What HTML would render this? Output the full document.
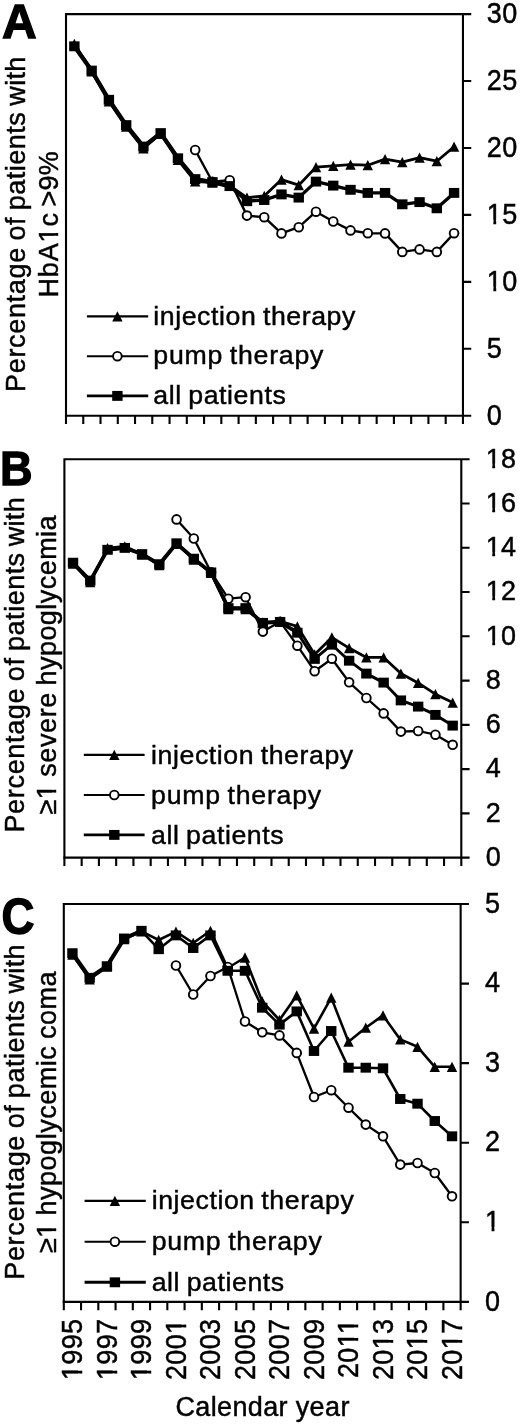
<!DOCTYPE html>
<html lang="en"><head><meta charset="utf-8"><title>Figure: trends by calendar year</title>
<style>
html,body{margin:0;padding:0;background:#fff;}
body{width:520px;height:1425px;overflow:hidden;}
svg{display:block;}
text{font-family:"Liberation Sans", Arial, Helvetica, sans-serif;font-size:27px;fill:#000;stroke:#000;stroke-width:0.45px;letter-spacing:0.36px;}
.axis path{fill:none;stroke:#000;stroke-width:2.1;}
.letter{font-weight:bold;font-size:48px;fill:#000;stroke:#000;stroke-width:1.3px;letter-spacing:0;stroke-linejoin:miter;}
.ytitle{text-anchor:middle;letter-spacing:0.52px;word-spacing:-1.4px;}
.leg{font-size:26.7px;letter-spacing:0.57px;word-spacing:-1.4px;}
.xnum text{text-anchor:end;}
.xtitle{text-anchor:middle;}
.s-inj path{fill:none;stroke:#000;stroke-linejoin:round;}
.s-inj polygon{fill:#000;}
.s-pump path{fill:none;stroke:#000;stroke-linejoin:round;}
.s-pump circle{fill:#fff;stroke:#000;stroke-width:1.9;}
.s-all path{fill:none;stroke:#000;stroke-linejoin:round;}
.s-all rect{fill:#000;}
.m1 rect{fill:#fff;stroke:none;}
</style></head><body>
<svg width="520" height="1425" viewBox="0 0 520 1425">
<defs><filter id="soft" x="0" y="0" width="520" height="1425" filterUnits="userSpaceOnUse" color-interpolation-filters="sRGB"><feGaussianBlur stdDeviation="0.42"/></filter></defs>
<rect x="0" y="0" width="520" height="1425" fill="#fff"/>
<g filter="url(#soft)">
<g class="panel" id="panel-A">
<g class="axis">
<path d="M66,415.7 V14.1 H471.25"/>
<path d="M462.95,14.1 V424"/>
<path d="M64.95,415.7 H471.25"/>
<path d="M66,415.7v8.3 M83.26,415.7v8.3 M100.52,415.7v8.3 M117.78,415.7v8.3 M135.03,415.7v8.3 M152.29,415.7v8.3 M169.55,415.7v8.3 M186.81,415.7v8.3 M204.07,415.7v8.3 M221.33,415.7v8.3 M238.59,415.7v8.3 M255.85,415.7v8.3 M273.1,415.7v8.3 M290.36,415.7v8.3 M307.62,415.7v8.3 M324.88,415.7v8.3 M342.14,415.7v8.3 M359.4,415.7v8.3 M376.66,415.7v8.3 M393.92,415.7v8.3 M411.17,415.7v8.3 M428.43,415.7v8.3 M445.69,415.7v8.3"/>
<path d="M462.95,348.77h8.3 M462.95,281.83h8.3 M462.95,214.9h8.3 M462.95,147.97h8.3 M462.95,81.03h8.3"/>
</g>
<g class="ynum">
<text transform="translate(486.8,424.8) scale(1,1.08)">0</text>
<text transform="translate(486.8,357.87) scale(1,1.08)">5</text>
<text transform="translate(486.8,290.93) scale(1,1.08)">10</text>
<g class="m1" transform="translate(486.8,290.93) scale(1,1.08)"><rect x="0.96" y="-3.94" width="5.59" height="5.37"/><rect x="9.42" y="-3.94" width="5.38" height="5.37"/></g>
<text transform="translate(486.8,224) scale(1,1.08)">15</text>
<g class="m1" transform="translate(486.8,224) scale(1,1.08)"><rect x="0.96" y="-3.94" width="5.59" height="5.37"/><rect x="9.42" y="-3.94" width="5.38" height="5.37"/></g>
<text transform="translate(486.8,157.07) scale(1,1.08)">20</text>
<text transform="translate(486.8,90.13) scale(1,1.08)">25</text>
<text transform="translate(486.8,23.2) scale(1,1.08)">30</text>
</g>
<g class="s-inj"><path stroke-width="2.8" d="M74.38,43.8 L91.64,71.3 L108.9,101.3 L126.16,126.6 L143.41,148.4 L160.67,133.8 L177.93,159.8 L195.19,181.3 L212.45,182.6 L229.71,185.6 L246.97,197.6 L264.23,196 L281.48,179.6 L298.74,185.2 L316,167.1 L333.26,165.9 L350.52,164.6 L367.78,165.2 L385.04,159.1 L402.29,162.1 L419.55,157.6 L436.81,161.2 L454.07,146.7"/>
<polygon points="74.38,38.65 79.58,48.95 69.18,48.95"/><polygon points="91.64,66.15 96.84,76.45 86.44,76.45"/><polygon points="108.9,96.15 114.1,106.45 103.7,106.45"/><polygon points="126.16,121.45 131.36,131.75 120.96,131.75"/><polygon points="143.41,143.25 148.61,153.55 138.21,153.55"/><polygon points="160.67,128.65 165.87,138.95 155.47,138.95"/><polygon points="177.93,154.65 183.13,164.95 172.73,164.95"/><polygon points="195.19,176.15 200.39,186.45 189.99,186.45"/><polygon points="212.45,177.45 217.65,187.75 207.25,187.75"/><polygon points="229.71,180.45 234.91,190.75 224.51,190.75"/><polygon points="246.97,192.45 252.17,202.75 241.77,202.75"/><polygon points="264.23,190.85 269.43,201.15 259.03,201.15"/><polygon points="281.48,174.45 286.68,184.75 276.28,184.75"/><polygon points="298.74,180.05 303.94,190.35 293.54,190.35"/><polygon points="316,161.95 321.2,172.25 310.8,172.25"/><polygon points="333.26,160.75 338.46,171.05 328.06,171.05"/><polygon points="350.52,159.45 355.72,169.75 345.32,169.75"/><polygon points="367.78,160.05 372.98,170.35 362.58,170.35"/><polygon points="385.04,153.95 390.24,164.25 379.84,164.25"/><polygon points="402.29,156.95 407.49,167.25 397.09,167.25"/><polygon points="419.55,152.45 424.75,162.75 414.35,162.75"/><polygon points="436.81,156.05 442.01,166.35 431.61,166.35"/><polygon points="454.07,141.55 459.27,151.85 448.87,151.85"/></g>
<g class="s-pump"><path stroke-width="2.4" d="M195.19,150 L212.45,181.7 L229.71,180.2 L246.97,215.6 L264.23,217.2 L281.48,233.4 L298.74,227.2 L316,211.7 L333.26,221.5 L350.52,230.4 L367.78,233.2 L385.04,233.4 L402.29,251.9 L419.55,249.4 L436.81,251.9 L454.07,233.2"/>
<circle cx="195.19" cy="150" r="4.35"/><circle cx="212.45" cy="181.7" r="4.35"/><circle cx="229.71" cy="180.2" r="4.35"/><circle cx="246.97" cy="215.6" r="4.35"/><circle cx="264.23" cy="217.2" r="4.35"/><circle cx="281.48" cy="233.4" r="4.35"/><circle cx="298.74" cy="227.2" r="4.35"/><circle cx="316" cy="211.7" r="4.35"/><circle cx="333.26" cy="221.5" r="4.35"/><circle cx="350.52" cy="230.4" r="4.35"/><circle cx="367.78" cy="233.2" r="4.35"/><circle cx="385.04" cy="233.4" r="4.35"/><circle cx="402.29" cy="251.9" r="4.35"/><circle cx="419.55" cy="249.4" r="4.35"/><circle cx="436.81" cy="251.9" r="4.35"/><circle cx="454.07" cy="233.2" r="4.35"/></g>
<g class="s-all"><path stroke-width="4.3" d="M74.38,46.3 L91.64,70.6 L108.9,99.8 L126.16,125.1 L143.41,146.6 L160.67,133.1 L177.93,158.3 L195.19,179.1 L212.45,182.1 L229.71,186.1"/><path stroke-width="3.3" d="M74.38,46.3 L91.64,70.6 L108.9,99.8 L126.16,125.1 L143.41,146.6 L160.67,133.1 L177.93,158.3 L195.19,179.1 L212.45,182.1 L229.71,186.1 L246.97,201.2 L264.23,200 L281.48,194.4 L298.74,197.6 L316,181.6 L333.26,185.6 L350.52,189.8 L367.78,192.9 L385.04,192.9 L402.29,204.3 L419.55,202.1 L436.81,208.3 L454.07,192.9"/>
<rect x="69.18" y="41.35" width="10.4" height="9.9"/><rect x="86.44" y="65.65" width="10.4" height="9.9"/><rect x="103.7" y="94.85" width="10.4" height="9.9"/><rect x="120.96" y="120.15" width="10.4" height="9.9"/><rect x="138.21" y="141.65" width="10.4" height="9.9"/><rect x="155.47" y="128.15" width="10.4" height="9.9"/><rect x="172.73" y="153.35" width="10.4" height="9.9"/><rect x="189.99" y="174.15" width="10.4" height="9.9"/><rect x="207.25" y="177.15" width="10.4" height="9.9"/><rect x="224.51" y="181.15" width="10.4" height="9.9"/><rect x="241.77" y="196.25" width="10.4" height="9.9"/><rect x="259.03" y="195.05" width="10.4" height="9.9"/><rect x="276.28" y="189.45" width="10.4" height="9.9"/><rect x="293.54" y="192.65" width="10.4" height="9.9"/><rect x="310.8" y="176.65" width="10.4" height="9.9"/><rect x="328.06" y="180.65" width="10.4" height="9.9"/><rect x="345.32" y="184.85" width="10.4" height="9.9"/><rect x="362.58" y="187.95" width="10.4" height="9.9"/><rect x="379.84" y="187.95" width="10.4" height="9.9"/><rect x="397.09" y="199.35" width="10.4" height="9.9"/><rect x="414.35" y="197.15" width="10.4" height="9.9"/><rect x="431.61" y="203.35" width="10.4" height="9.9"/><rect x="448.87" y="187.95" width="10.4" height="9.9"/></g>
<g class="s-inj"><path stroke-width="2.3" d="M86.9,316.4 H148.2"/><polygon points="117.4,311.25 122.6,321.55 112.2,321.55"/></g>
<text class="leg" x="153.3" y="324.5">injection therapy</text>
<g class="s-pump"><path stroke-width="2" d="M86.9,356.2 H148.2"/><circle cx="117.4" cy="356.2" r="4.35"/></g>
<text class="leg" style="letter-spacing:0.75px" x="153.3" y="364.3">pump therapy</text>
<g class="s-all"><path stroke-width="2.9" d="M86.9,395.9 H148.2"/><rect x="112.2" y="390.95" width="10.4" height="9.9"/></g>
<text class="leg" x="153.3" y="404">all patients</text>
<text class="letter" transform="translate(2,38.4) scale(1,1)">A</text>
<text class="ytitle" transform="translate(24.9,224.2) rotate(-90)"><tspan style="letter-spacing:0.67px">Percentage</tspan><tspan style="letter-spacing:0.52px"> of patien</tspan><tspan style="letter-spacing:0.3px">ts with</tspan></text>
<text class="ytitle" transform="translate(58,224.2) rotate(-90)"><tspan style="letter-spacing:0.87px">HbA1</tspan><tspan style="letter-spacing:0.24px">c >9%</tspan></text>
<g class="m1" transform="translate(58,224.2) rotate(-90)"><rect x="-17.23" y="-3.94" width="5.59" height="5.37"/><rect x="-8.77" y="-3.94" width="5.38" height="5.37"/></g>
</g>
<g class="panel" id="panel-B">
<g class="axis">
<path d="M64.4,857.6 V459.3 H469.6"/>
<path d="M461.3,459.3 V865.9"/>
<path d="M63.35,857.6 H469.6"/>
<path d="M64.4,857.6v8.3 M81.66,857.6v8.3 M98.91,857.6v8.3 M116.17,857.6v8.3 M133.43,857.6v8.3 M150.68,857.6v8.3 M167.94,857.6v8.3 M185.2,857.6v8.3 M202.45,857.6v8.3 M219.71,857.6v8.3 M236.97,857.6v8.3 M254.22,857.6v8.3 M271.48,857.6v8.3 M288.73,857.6v8.3 M305.99,857.6v8.3 M323.25,857.6v8.3 M340.5,857.6v8.3 M357.76,857.6v8.3 M375.02,857.6v8.3 M392.27,857.6v8.3 M409.53,857.6v8.3 M426.79,857.6v8.3 M444.04,857.6v8.3"/>
<path d="M461.3,813.34h8.3 M461.3,769.09h8.3 M461.3,724.83h8.3 M461.3,680.58h8.3 M461.3,636.32h8.3 M461.3,592.07h8.3 M461.3,547.81h8.3 M461.3,503.56h8.3"/>
</g>
<g class="ynum">
<text transform="translate(485.7,865.9) scale(1,1.05)">0</text>
<text transform="translate(485.7,821.64) scale(1,1.05)">2</text>
<text transform="translate(485.7,777.39) scale(1,1.05)">4</text>
<text transform="translate(485.7,733.13) scale(1,1.05)">6</text>
<text transform="translate(485.7,688.88) scale(1,1.05)">8</text>
<text transform="translate(485.7,644.62) scale(1,1.05)">10</text>
<g class="m1" transform="translate(485.7,644.62) scale(1,1.05)"><rect x="0.96" y="-3.94" width="5.59" height="5.37"/><rect x="9.42" y="-3.94" width="5.38" height="5.37"/></g>
<text transform="translate(485.7,600.37) scale(1,1.05)">12</text>
<g class="m1" transform="translate(485.7,600.37) scale(1,1.05)"><rect x="0.96" y="-3.94" width="5.59" height="5.37"/><rect x="9.42" y="-3.94" width="5.38" height="5.37"/></g>
<text transform="translate(485.7,556.11) scale(1,1.05)">14</text>
<g class="m1" transform="translate(485.7,556.11) scale(1,1.05)"><rect x="0.96" y="-3.94" width="5.59" height="5.37"/><rect x="9.42" y="-3.94" width="5.38" height="5.37"/></g>
<text transform="translate(485.7,511.86) scale(1,1.05)">16</text>
<g class="m1" transform="translate(485.7,511.86) scale(1,1.05)"><rect x="0.96" y="-3.94" width="5.59" height="5.37"/><rect x="9.42" y="-3.94" width="5.38" height="5.37"/></g>
<text transform="translate(485.7,467.6) scale(1,1.05)">18</text>
<g class="m1" transform="translate(485.7,467.6) scale(1,1.05)"><rect x="0.96" y="-3.94" width="5.59" height="5.37"/><rect x="9.42" y="-3.94" width="5.38" height="5.37"/></g>
</g>
<g class="s-inj"><path stroke-width="2.8" d="M73.03,563.7 L90.28,582.1 L107.54,548.2 L124.8,546.3 L142.05,554.6 L159.31,565.2 L176.57,543.9 L193.82,559.5 L211.08,572.9 L228.34,609.1 L245.59,609.1 L262.85,622.4 L280.11,621.4 L297.36,626.4 L314.62,654.4 L331.88,637.4 L349.13,648.1 L366.39,657.4 L383.65,657.4 L400.9,673.6 L418.16,682.9 L435.42,694.2 L452.67,702.6"/>
<polygon points="73.03,558.55 78.23,568.85 67.83,568.85"/><polygon points="90.28,576.95 95.48,587.25 85.08,587.25"/><polygon points="107.54,543.05 112.74,553.35 102.34,553.35"/><polygon points="124.8,541.15 130,551.45 119.6,551.45"/><polygon points="142.05,549.45 147.25,559.75 136.85,559.75"/><polygon points="159.31,560.05 164.51,570.35 154.11,570.35"/><polygon points="176.57,538.75 181.77,549.05 171.37,549.05"/><polygon points="193.82,554.35 199.02,564.65 188.62,564.65"/><polygon points="211.08,567.75 216.28,578.05 205.88,578.05"/><polygon points="228.34,603.95 233.54,614.25 223.14,614.25"/><polygon points="245.59,603.95 250.79,614.25 240.39,614.25"/><polygon points="262.85,617.25 268.05,627.55 257.65,627.55"/><polygon points="280.11,616.25 285.31,626.55 274.91,626.55"/><polygon points="297.36,621.25 302.56,631.55 292.16,631.55"/><polygon points="314.62,649.25 319.82,659.55 309.42,659.55"/><polygon points="331.88,632.25 337.08,642.55 326.68,642.55"/><polygon points="349.13,642.95 354.33,653.25 343.93,653.25"/><polygon points="366.39,652.25 371.59,662.55 361.19,662.55"/><polygon points="383.65,652.25 388.85,662.55 378.45,662.55"/><polygon points="400.9,668.45 406.1,678.75 395.7,678.75"/><polygon points="418.16,677.75 423.36,688.05 412.96,688.05"/><polygon points="435.42,689.05 440.62,699.35 430.22,699.35"/><polygon points="452.67,697.45 457.87,707.75 447.47,707.75"/></g>
<g class="s-pump"><path stroke-width="2.3" d="M176.57,519.4 L193.82,538.5 L211.08,572.2 L228.34,598.7 L245.59,597.2 L262.85,631.6 L280.11,621.7 L297.36,645.7 L314.62,671.2 L331.88,658.7 L349.13,682.3 L366.39,698 L383.65,713.4 L400.9,731.6 L418.16,731 L435.42,734.7 L452.67,744.8"/>
<circle cx="176.57" cy="519.4" r="4.35"/><circle cx="193.82" cy="538.5" r="4.35"/><circle cx="211.08" cy="572.2" r="4.35"/><circle cx="228.34" cy="598.7" r="4.35"/><circle cx="245.59" cy="597.2" r="4.35"/><circle cx="262.85" cy="631.6" r="4.35"/><circle cx="280.11" cy="621.7" r="4.35"/><circle cx="297.36" cy="645.7" r="4.35"/><circle cx="314.62" cy="671.2" r="4.35"/><circle cx="331.88" cy="658.7" r="4.35"/><circle cx="349.13" cy="682.3" r="4.35"/><circle cx="366.39" cy="698" r="4.35"/><circle cx="383.65" cy="713.4" r="4.35"/><circle cx="400.9" cy="731.6" r="4.35"/><circle cx="418.16" cy="731" r="4.35"/><circle cx="435.42" cy="734.7" r="4.35"/><circle cx="452.67" cy="744.8" r="4.35"/></g>
<g class="s-all"><path stroke-width="3.7" d="M73.03,562.7 L90.28,580.6 L107.54,549.8 L124.8,547.9 L142.05,554.1 L159.31,564.2 L176.57,543.3 L193.82,558.7 L211.08,572.4 L228.34,608.1 L245.59,608.1 L262.85,622.9 L280.11,621.9 L297.36,632.7"/><path stroke-width="2.9" d="M73.03,562.7 L90.28,580.6 L107.54,549.8 L124.8,547.9 L142.05,554.1 L159.31,564.2 L176.57,543.3 L193.82,558.7 L211.08,572.4 L228.34,608.1 L245.59,608.1 L262.85,622.9 L280.11,621.9 L297.36,632.7 L314.62,658.9 L331.88,644.7 L349.13,660.7 L366.39,673.6 L383.65,682.6 L400.9,700.4 L418.16,706.6 L435.42,714.9 L452.67,725.6"/>
<rect x="67.83" y="557.75" width="10.4" height="9.9"/><rect x="85.08" y="575.65" width="10.4" height="9.9"/><rect x="102.34" y="544.85" width="10.4" height="9.9"/><rect x="119.6" y="542.95" width="10.4" height="9.9"/><rect x="136.85" y="549.15" width="10.4" height="9.9"/><rect x="154.11" y="559.25" width="10.4" height="9.9"/><rect x="171.37" y="538.35" width="10.4" height="9.9"/><rect x="188.62" y="553.75" width="10.4" height="9.9"/><rect x="205.88" y="567.45" width="10.4" height="9.9"/><rect x="223.14" y="603.15" width="10.4" height="9.9"/><rect x="240.39" y="603.15" width="10.4" height="9.9"/><rect x="257.65" y="617.95" width="10.4" height="9.9"/><rect x="274.91" y="616.95" width="10.4" height="9.9"/><rect x="292.16" y="627.75" width="10.4" height="9.9"/><rect x="309.42" y="653.95" width="10.4" height="9.9"/><rect x="326.68" y="639.75" width="10.4" height="9.9"/><rect x="343.93" y="655.75" width="10.4" height="9.9"/><rect x="361.19" y="668.65" width="10.4" height="9.9"/><rect x="378.45" y="677.65" width="10.4" height="9.9"/><rect x="395.7" y="695.45" width="10.4" height="9.9"/><rect x="412.96" y="701.65" width="10.4" height="9.9"/><rect x="430.22" y="709.95" width="10.4" height="9.9"/><rect x="447.47" y="720.65" width="10.4" height="9.9"/></g>
<g class="s-inj"><path stroke-width="2.3" d="M83.8,754.9 H144.6"/><polygon points="114.3,749.75 119.5,760.05 109.1,760.05"/></g>
<text class="leg" x="151.1" y="763.8">injection therapy</text>
<g class="s-pump"><path stroke-width="2" d="M83.8,795 H144.6"/><circle cx="114.3" cy="795" r="4.35"/></g>
<text class="leg" style="letter-spacing:0.75px" x="151.1" y="803.9">pump therapy</text>
<g class="s-all"><path stroke-width="2.9" d="M83.8,834.9 H144.6"/><rect x="109.1" y="829.95" width="10.4" height="9.9"/></g>
<text class="leg" x="151.1" y="843.8">all patients</text>
<text class="letter" transform="translate(0.1,485.2) scale(0.94,1)">B</text>
<text class="ytitle" transform="translate(24.4,664.8) rotate(-90)"><tspan style="letter-spacing:0.67px">Percentage</tspan><tspan style="letter-spacing:0.52px"> of patien</tspan><tspan style="letter-spacing:0.3px">ts with</tspan></text>
<text class="ytitle" transform="translate(56,664.8) rotate(-90)"><tspan style="letter-spacing:0.62px">≥1 severe</tspan><tspan style="letter-spacing:0.45px"> hypoglycemia</tspan></text>
<g class="m1" transform="translate(56,664.8) rotate(-90)"><rect x="-133.41" y="-3.94" width="5.59" height="5.37"/><rect x="-124.95" y="-3.94" width="5.38" height="5.37"/></g>
</g>
<g class="panel" id="panel-C">
<g class="axis">
<path d="M63.8,1301.9 V904 H468.95"/>
<path d="M460.65,904 V1310.2"/>
<path d="M62.75,1301.9 H468.95"/>
<path d="M63.8,1301.9v8.3 M81.05,1301.9v8.3 M98.31,1301.9v8.3 M115.56,1301.9v8.3 M132.82,1301.9v8.3 M150.07,1301.9v8.3 M167.33,1301.9v8.3 M184.58,1301.9v8.3 M201.83,1301.9v8.3 M219.09,1301.9v8.3 M236.34,1301.9v8.3 M253.6,1301.9v8.3 M270.85,1301.9v8.3 M288.11,1301.9v8.3 M305.36,1301.9v8.3 M322.62,1301.9v8.3 M339.87,1301.9v8.3 M357.12,1301.9v8.3 M374.38,1301.9v8.3 M391.63,1301.9v8.3 M408.89,1301.9v8.3 M426.14,1301.9v8.3 M443.4,1301.9v8.3"/>
<path d="M460.65,1222.32h8.3 M460.65,1142.74h8.3 M460.65,1063.16h8.3 M460.65,983.58h8.3"/>
</g>
<g class="ynum">
<text transform="translate(485,1310.65) scale(1,1.06)">0</text>
<text transform="translate(485,1231.07) scale(1,1.06)">1</text>
<g class="m1" transform="translate(485,1231.07) scale(1,1.06)"><rect x="0.96" y="-3.94" width="5.59" height="5.37"/><rect x="9.42" y="-3.94" width="5.38" height="5.37"/></g>
<text transform="translate(485,1151.49) scale(1,1.06)">2</text>
<text transform="translate(485,1071.91) scale(1,1.06)">3</text>
<text transform="translate(485,992.33) scale(1,1.06)">4</text>
<text transform="translate(485,912.75) scale(1,1.06)">5</text>
</g>
<g class="s-inj"><path stroke-width="2.6" d="M72.43,954.7 L89.68,979.3 L106.94,966.7 L124.19,939 L141.44,931.3 L158.7,940 L175.95,931.7 L193.21,943 L210.46,930.8 L227.72,968 L244.97,957.5 L262.23,1001.5 L279.48,1020 L296.73,995.4 L313.99,1028.7 L331.24,997.6 L348.5,1041.7 L365.75,1027.7 L383.01,1015.4 L400.26,1039.4 L417.51,1046.8 L434.77,1066.8 L452.02,1066.8"/>
<polygon points="72.43,949.55 77.63,959.85 67.23,959.85"/><polygon points="89.68,974.15 94.88,984.45 84.48,984.45"/><polygon points="106.94,961.55 112.14,971.85 101.74,971.85"/><polygon points="124.19,933.85 129.39,944.15 118.99,944.15"/><polygon points="141.44,926.15 146.64,936.45 136.24,936.45"/><polygon points="158.7,934.85 163.9,945.15 153.5,945.15"/><polygon points="175.95,926.55 181.15,936.85 170.75,936.85"/><polygon points="193.21,937.85 198.41,948.15 188.01,948.15"/><polygon points="210.46,925.65 215.66,935.95 205.26,935.95"/><polygon points="227.72,962.85 232.92,973.15 222.52,973.15"/><polygon points="244.97,952.35 250.17,962.65 239.77,962.65"/><polygon points="262.23,996.35 267.43,1006.65 257.03,1006.65"/><polygon points="279.48,1014.85 284.68,1025.15 274.28,1025.15"/><polygon points="296.73,990.25 301.93,1000.55 291.53,1000.55"/><polygon points="313.99,1023.55 319.19,1033.85 308.79,1033.85"/><polygon points="331.24,992.45 336.44,1002.75 326.04,1002.75"/><polygon points="348.5,1036.55 353.7,1046.85 343.3,1046.85"/><polygon points="365.75,1022.55 370.95,1032.85 360.55,1032.85"/><polygon points="383.01,1010.25 388.21,1020.55 377.81,1020.55"/><polygon points="400.26,1034.25 405.46,1044.55 395.06,1044.55"/><polygon points="417.51,1041.65 422.71,1051.95 412.31,1051.95"/><polygon points="434.77,1061.65 439.97,1071.95 429.57,1071.95"/><polygon points="452.02,1061.65 457.22,1071.95 446.82,1071.95"/></g>
<g class="s-pump"><path stroke-width="2.3" d="M175.95,965.5 L193.21,994.5 L210.46,976 L227.72,967 L244.97,1021.5 L262.23,1032.3 L279.48,1035.4 L296.73,1052.9 L313.99,1097 L331.24,1090.2 L348.5,1107.7 L365.75,1124.6 L383.01,1136.3 L400.26,1164.6 L417.51,1163 L434.77,1173 L452.02,1196.3"/>
<circle cx="175.95" cy="965.5" r="4.35"/><circle cx="193.21" cy="994.5" r="4.35"/><circle cx="210.46" cy="976" r="4.35"/><circle cx="227.72" cy="967" r="4.35"/><circle cx="244.97" cy="1021.5" r="4.35"/><circle cx="262.23" cy="1032.3" r="4.35"/><circle cx="279.48" cy="1035.4" r="4.35"/><circle cx="296.73" cy="1052.9" r="4.35"/><circle cx="313.99" cy="1097" r="4.35"/><circle cx="331.24" cy="1090.2" r="4.35"/><circle cx="348.5" cy="1107.7" r="4.35"/><circle cx="365.75" cy="1124.6" r="4.35"/><circle cx="383.01" cy="1136.3" r="4.35"/><circle cx="400.26" cy="1164.6" r="4.35"/><circle cx="417.51" cy="1163" r="4.35"/><circle cx="434.77" cy="1173" r="4.35"/><circle cx="452.02" cy="1196.3" r="4.35"/></g>
<g class="s-all"><path stroke-width="4.1" d="M72.43,953.2 L89.68,977.8 L106.94,966.2 L124.19,938.5 L141.44,930.8"/><path stroke-width="2.6" d="M72.43,953.2 L89.68,977.8 L106.94,966.2 L124.19,938.5 L141.44,930.8 L158.7,949.2 L175.95,935.4 L193.21,948 L210.46,935.4 L227.72,970.8 L244.97,970.8 L262.23,1007.7 L279.48,1024.6 L296.73,1011.4 L313.99,1051 L331.24,1031 L348.5,1067.7 L365.75,1067.7 L383.01,1068.3 L400.26,1099 L417.51,1103.7 L434.77,1121 L452.02,1136.3"/>
<rect x="67.23" y="948.25" width="10.4" height="9.9"/><rect x="84.48" y="972.85" width="10.4" height="9.9"/><rect x="101.74" y="961.25" width="10.4" height="9.9"/><rect x="118.99" y="933.55" width="10.4" height="9.9"/><rect x="136.24" y="925.85" width="10.4" height="9.9"/><rect x="153.5" y="944.25" width="10.4" height="9.9"/><rect x="170.75" y="930.45" width="10.4" height="9.9"/><rect x="188.01" y="943.05" width="10.4" height="9.9"/><rect x="205.26" y="930.45" width="10.4" height="9.9"/><rect x="222.52" y="965.85" width="10.4" height="9.9"/><rect x="239.77" y="965.85" width="10.4" height="9.9"/><rect x="257.03" y="1002.75" width="10.4" height="9.9"/><rect x="274.28" y="1019.65" width="10.4" height="9.9"/><rect x="291.53" y="1006.45" width="10.4" height="9.9"/><rect x="308.79" y="1046.05" width="10.4" height="9.9"/><rect x="326.04" y="1026.05" width="10.4" height="9.9"/><rect x="343.3" y="1062.75" width="10.4" height="9.9"/><rect x="360.55" y="1062.75" width="10.4" height="9.9"/><rect x="377.81" y="1063.35" width="10.4" height="9.9"/><rect x="395.06" y="1094.05" width="10.4" height="9.9"/><rect x="412.31" y="1098.75" width="10.4" height="9.9"/><rect x="429.57" y="1116.05" width="10.4" height="9.9"/><rect x="446.82" y="1131.35" width="10.4" height="9.9"/></g>
<g class="s-inj"><path stroke-width="2.3" d="M84.6,1200.8 H145.8"/><polygon points="114.9,1195.65 120.1,1205.95 109.7,1205.95"/></g>
<text class="leg" x="151.7" y="1209.2">injection therapy</text>
<g class="s-pump"><path stroke-width="2" d="M84.6,1241.7 H145.8"/><circle cx="114.9" cy="1241.7" r="4.35"/></g>
<text class="leg" style="letter-spacing:0.75px" x="151.7" y="1250.1">pump therapy</text>
<g class="s-all"><path stroke-width="2.9" d="M84.6,1282.3 H145.8"/><rect x="109.7" y="1277.35" width="10.4" height="9.9"/></g>
<text class="leg" x="151.7" y="1290.7">all patients</text>
<text class="letter" transform="translate(1.6,934.2) scale(0.95,1.05)">C</text>
<text class="ytitle" transform="translate(24.4,1112) rotate(-90)"><tspan style="letter-spacing:0.67px">Percentage</tspan><tspan style="letter-spacing:0.52px"> of patien</tspan><tspan style="letter-spacing:0.3px">ts with</tspan></text>
<text class="ytitle" transform="translate(56,1112) rotate(-90)">≥1 hypoglycemic coma</text>
<g class="m1" transform="translate(56,1112) rotate(-90)"><rect x="-124.73" y="-3.94" width="5.59" height="5.37"/><rect x="-116.27" y="-3.94" width="5.38" height="5.37"/></g>
<g class="xnum">
<text transform="translate(82.33,1318.6) rotate(-90) scale(1,1.07)">1995</text>
<g class="m1" transform="translate(82.33,1318.6) rotate(-90) scale(1,1.07)"><rect x="-60.54" y="-3.94" width="5.59" height="5.37"/><rect x="-52.08" y="-3.94" width="5.38" height="5.37"/></g>
<text transform="translate(116.84,1318.6) rotate(-90) scale(1,1.07)">1997</text>
<g class="m1" transform="translate(116.84,1318.6) rotate(-90) scale(1,1.07)"><rect x="-60.54" y="-3.94" width="5.59" height="5.37"/><rect x="-52.08" y="-3.94" width="5.38" height="5.37"/></g>
<text transform="translate(151.34,1318.6) rotate(-90) scale(1,1.07)">1999</text>
<g class="m1" transform="translate(151.34,1318.6) rotate(-90) scale(1,1.07)"><rect x="-60.54" y="-3.94" width="5.59" height="5.37"/><rect x="-52.08" y="-3.94" width="5.38" height="5.37"/></g>
<text transform="translate(185.85,1318.6) rotate(-90) scale(1,1.07)">2001</text>
<g class="m1" transform="translate(185.85,1318.6) rotate(-90) scale(1,1.07)"><rect x="-14.43" y="-3.94" width="5.59" height="5.37"/><rect x="-5.97" y="-3.94" width="5.38" height="5.37"/></g>
<text transform="translate(220.36,1318.6) rotate(-90) scale(1,1.07)">2003</text>
<text transform="translate(254.87,1318.6) rotate(-90) scale(1,1.07)">2005</text>
<text transform="translate(289.38,1318.6) rotate(-90) scale(1,1.07)">2007</text>
<text transform="translate(323.89,1318.6) rotate(-90) scale(1,1.07)">2009</text>
<text transform="translate(358.4,1318.6) rotate(-90) scale(1,1.07)">2011</text>
<g class="m1" transform="translate(358.4,1318.6) rotate(-90) scale(1,1.07)"><rect x="-27.8" y="-3.94" width="5.59" height="5.37"/><rect x="-19.34" y="-3.94" width="5.38" height="5.37"/><rect x="-14.43" y="-3.94" width="5.59" height="5.37"/><rect x="-5.97" y="-3.94" width="5.38" height="5.37"/></g>
<text transform="translate(392.91,1318.6) rotate(-90) scale(1,1.07)">2013</text>
<g class="m1" transform="translate(392.91,1318.6) rotate(-90) scale(1,1.07)"><rect x="-29.81" y="-3.94" width="5.59" height="5.37"/><rect x="-21.35" y="-3.94" width="5.38" height="5.37"/></g>
<text transform="translate(427.41,1318.6) rotate(-90) scale(1,1.07)">2015</text>
<g class="m1" transform="translate(427.41,1318.6) rotate(-90) scale(1,1.07)"><rect x="-29.81" y="-3.94" width="5.59" height="5.37"/><rect x="-21.35" y="-3.94" width="5.38" height="5.37"/></g>
<text transform="translate(461.92,1318.6) rotate(-90) scale(1,1.07)">2017</text>
<g class="m1" transform="translate(461.92,1318.6) rotate(-90) scale(1,1.07)"><rect x="-29.81" y="-3.94" width="5.59" height="5.37"/><rect x="-21.35" y="-3.94" width="5.38" height="5.37"/></g>
</g>
<text class="xtitle" x="262.6" y="1415.8">Calendar year</text>
</g>
</g>
</svg>
</body></html>
